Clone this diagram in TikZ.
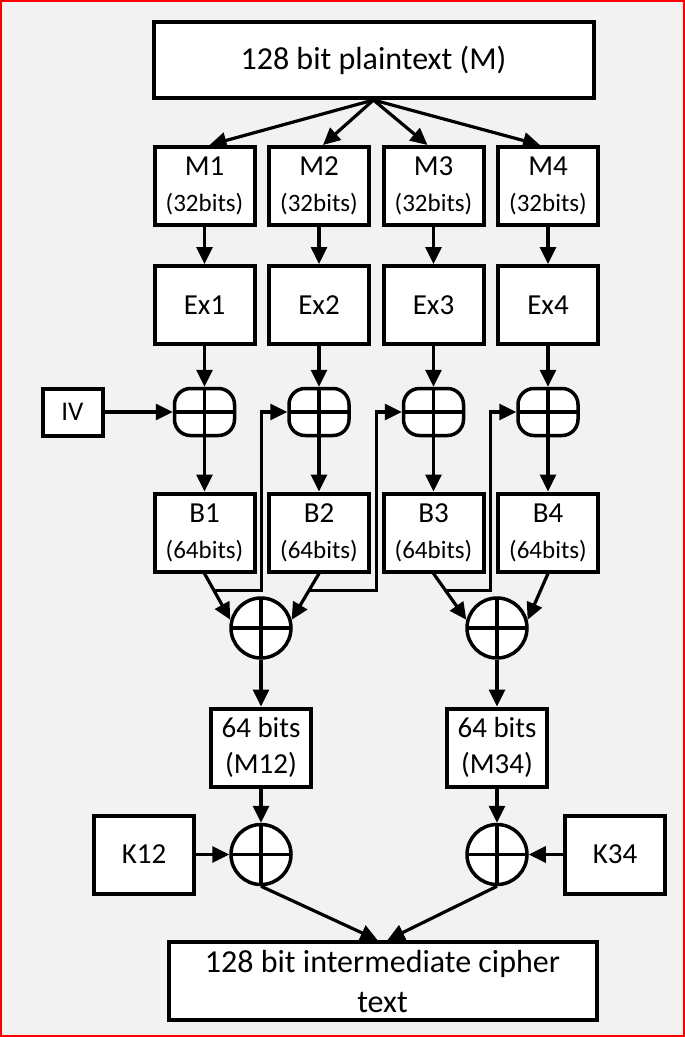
\documentclass[tikz,border=0pt]{standalone}
\usepackage{fontspec}
\setmainfont{Carlito}
\usetikzlibrary{positioning,arrows.meta,calc}

\tikzset{
  >={Triangle[length=17pt,width=16pt]},
  wire/.style={line width=3.2pt},
  block/.style={draw, rectangle, fill=white, line width=4pt, minimum width=100pt,
    minimum height=78pt, align=center, font=\fontsize{29}{36}\selectfont},
  plus/.style={path picture={\draw[line width=3.2pt]
    (path picture bounding box.north) -- (path picture bounding box.south)
    (path picture bounding box.west) -- (path picture bounding box.east);}},
  xorbox/.style={draw, rectangle, rounded corners=16pt, fill=white, line width=3.5pt,
    minimum width=60pt, minimum height=47pt, plus},
  xorcirc/.style={draw, circle, fill=white, line width=3.5pt, minimum size=60pt, plus},
}
\newcommand{\bitsub}[1]{{\fontsize{25}{30}\selectfont #1}}

\begin{document}
\begin{tikzpicture}[x=1pt, y=1pt, auto, node distance=114.5pt]

    % Background
    \useasboundingbox (0,0) rectangle (685,-1037);
    \fill[black!5] (0,0) rectangle (685,-1037);
    \draw[red, line width=2pt] (1,-1) rectangle (684,-1036);

    % Nodes
    \node [block, minimum width=440pt, minimum height=76pt, font=\fontsize{32}{38}\selectfont] at (373.5,-60) (plain) {128 bit plaintext (M)};
    \node [block] at (204.5,-186) (M1) {M1\\\bitsub{(32bits)}};
    \node [block, right of=M1] (M2) {M2\\\bitsub{(32bits)}};
    \node [block, right of=M2] (M3) {M3\\\bitsub{(32bits)}};
    \node [block, right of=M3] (M4) {M4\\\bitsub{(32bits)}};

    \node [block, below of=M1, node distance=119pt] (Ex1) {Ex1};
    \node [block, below of=M2, node distance=119pt] (Ex2) {Ex2};
    \node [block, below of=M3, node distance=119pt] (Ex3) {Ex3};
    \node [block, below of=M4, node distance=119pt] (Ex4) {Ex4};

    \node [xorbox, below of=Ex1, node distance=107pt] (x1) {};
    \node [xorbox, below of=Ex2, node distance=107pt] (x2) {};
    \node [xorbox, below of=Ex3, node distance=107pt] (x3) {};
    \node [xorbox, below of=Ex4, node distance=107pt] (x4) {};
    \node [block, left of=x1, node distance=132pt, minimum width=60pt, minimum height=47pt, font=\fontsize{27}{32}\selectfont] (IV) {IV};

    \node [block, below of=x1, node distance=120.5pt] (B1) {B1\\\bitsub{(64bits)}};
    \node [block, below of=x2, node distance=120.5pt] (B2) {B2\\\bitsub{(64bits)}};
    \node [block, below of=x3, node distance=120.5pt] (B3) {B3\\\bitsub{(64bits)}};
    \node [block, below of=x4, node distance=120.5pt] (B4) {B4\\\bitsub{(64bits)}};

    \node [xorcirc] at (261,-628) (xa) {};
    \node [xorcirc] at (497,-628) (xb) {};
    \node [block, below of=xa, node distance=119.5pt] (M12) {64 bits\\(M12)};
    \node [block, below of=xb, node distance=119.5pt] (M34) {64 bits\\(M34)};
    \node [xorcirc, below of=M12, node distance=107pt] (xc) {};
    \node [xorcirc, below of=M34, node distance=107pt] (xd) {};
    \node [block, left of=xc, node distance=117pt] (K12) {K12};
    \node [block, right of=xd, node distance=118pt] (K34) {K34};

    \node [block, minimum width=428pt, font=\fontsize{32}{40}\selectfont] at (382.5,-981) (cipher) {128 bit intermediate cipher\\text};

    % Arrows
    \draw[wire, ->] (plain.south) -- ([xshift=5pt]M1.north);
    \draw[wire, ->] (plain.south) -- ([xshift=4pt]M2.north);
    \draw[wire, ->] (plain.south) -- ([xshift=-6pt]M3.north);
    \draw[wire, ->] (plain.south) -- ([xshift=-8pt]M4.north);

    \draw[wire, ->] (M1) -- (Ex1);
    \draw[wire, ->] (M2) -- (Ex2);
    \draw[wire, ->] (M3) -- (Ex3);
    \draw[wire, ->] (M4) -- (Ex4);

    \draw[wire, ->] (Ex1) -- (x1);
    \draw[wire, ->] (Ex2) -- (x2);
    \draw[wire, ->] (Ex3) -- (x3);
    \draw[wire, ->] (Ex4) -- (x4);
    \draw[wire, ->] (IV) -- (x1);

    \draw[wire, ->] (x1) -- (B1);
    \draw[wire, ->] (x2) -- (B2);
    \draw[wire, ->] (x3) -- (B3);
    \draw[wire, ->] (x4) -- (B4);

    \draw[wire, ->] (B1.south) -- (xa.165);
    \draw[wire, ->] (B2.south) -- (xa.15);
    \draw[wire, ->] (B3.south) -- (xb.165);
    \draw[wire, ->] (B4.south) -- (xb.15);

    % Chaining
    \path (B1.south) -- (xa.165) coordinate[pos=0.36] (f1);
    \path (B2.south) -- (xa.15) coordinate[pos=0.36] (f2);
    \path (B3.south) -- (xb.165) coordinate[pos=0.36] (f3);
    \coordinate (g1) at ($(B1.east)!0.5!(B2.west)$);
    \coordinate (g2) at ($(B2.east)!0.5!(B3.west)$);
    \coordinate (g3) at ($(B3.east)!0.5!(B4.west)$);
    \draw[wire, ->] (f1) -| (g1) |- (x2.west);
    \draw[wire, ->] (f2) -| (g2) |- (x3.west);
    \draw[wire, ->] (f3) -| (g3) |- (x4.west);

    \draw[wire, ->] (xa) -- (M12);
    \draw[wire, ->] (xb) -- (M34);
    \draw[wire, ->] (M12) -- (xc);
    \draw[wire, ->] (M34) -- (xd);
    \draw[wire, ->] (K12) -- (xc);
    \draw[wire, ->] (K34) -- (xd);
    \draw[wire, ->] (xc.south) -- ([xshift=-5pt]cipher.north);
    \draw[wire, ->] (xd.south) -- ([xshift=5pt]cipher.north);

\end{tikzpicture}
\end{document}
